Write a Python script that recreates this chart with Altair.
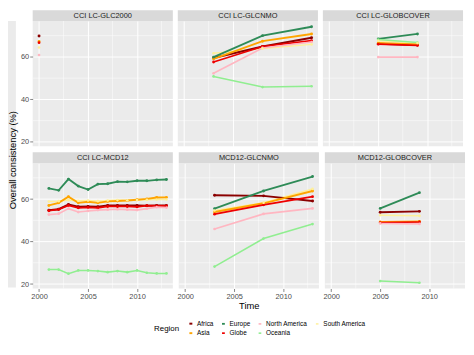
import altair as alt
import pandas as pd

regions = ["Africa", "Asia", "Europe", "Globe", "North America", "Oceania", "South America"]
legend_order = ["Africa", "Europe", "North America", "South America", "Asia", "Globe", "Oceania"]
colors = ["#8B0000", "#FFA500", "#2E8B57", "#EE0000", "#FFB6C1", "#90EE90", "#FFF09A"]
line_widths = [2, 1.5, 1, 2, 1, 1.2, 5]
point_sizes = [9, 7, 5, 9, 5, 5, 5]

panels = ["CCI LC-GLC2000", "CCI LC-GLCNMO", "CCI LC-GLOBCOVER",
          "CCI LC-MCD12", "MCD12-GLCNMO", "MCD12-GLOBCOVER"]

years = {
    "CCI LC-GLC2000": [2000],
    "CCI LC-GLCNMO": [2003, 2008, 2013],
    "CCI LC-GLOBCOVER": [2005, 2009],
    "CCI LC-MCD12": list(range(2001, 2014)),
    "MCD12-GLCNMO": [2003, 2008, 2013],
    "MCD12-GLOBCOVER": [2005, 2009],
}

values = {
    "CCI LC-GLC2000": {
        "Africa": [69.8], "Asia": [67.3], "Globe": [66.7],
        "South America": [64.4], "North America": [60.9],
    },
    "CCI LC-GLCNMO": {
        "Africa": [59.5, 64.9, 69.0],
        "Asia": [59.1, 67.4, 70.8],
        "Europe": [59.9, 70.0, 74.2],
        "Globe": [57.6, 64.9, 67.7],
        "North America": [52.3, 64.2, 67.0],
        "Oceania": [50.8, 45.8, 46.2],
        "South America": [61.7, 64.0, 65.9],
    },
    "CCI LC-GLOBCOVER": {
        "Africa": [66.2, 65.6],
        "Asia": [66.6, 65.9],
        "Europe": [68.5, 70.8],
        "Globe": [66.0, 65.4],
        "North America": [59.9, 59.9],
        "Oceania": [68.2, 66.8],
        "South America": [67.6, 66.5],
    },
    "CCI LC-MCD12": {
        "Africa": [54.7, 55.2, 57.4, 56.4, 56.5, 56.4, 57.0, 57.0, 57.0, 57.0, 56.9, 57.0, 57.0],
        "Asia": [57.0, 58.2, 61.1, 58.2, 58.7, 58.2, 58.9, 59.1, 59.3, 59.7, 60.1, 60.7, 60.8],
        "Europe": [65.0, 64.1, 69.4, 66.1, 64.5, 67.0, 67.2, 68.2, 68.1, 68.6, 68.6, 69.0, 69.2],
        "Globe": [54.5, 55.1, 57.0, 55.9, 56.1, 55.9, 56.5, 56.5, 56.5, 56.3, 56.9, 56.8, 56.8],
        "North America": [52.7, 53.1, 55.5, 53.9, 54.4, 54.8, 55.0, 55.2, 55.0, 54.8, 55.5, 56.2, 56.0],
        "Oceania": [26.8, 26.8, 24.9, 26.4, 26.4, 26.1, 25.6, 26.1, 25.6, 26.4, 25.3, 25.0, 25.0],
        "South America": [58.8, 59.0, 59.5, 59.2, 59.3, 59.0, 59.3, 59.5, 59.4, 59.5, 59.7, 59.8, 59.8],
    },
    "MCD12-GLCNMO": {
        "Africa": [61.8, 61.5, 59.1],
        "Asia": [53.9, 58.0, 63.8],
        "Europe": [55.5, 63.8, 70.6],
        "Globe": [52.9, 57.3, 61.1],
        "North America": [45.9, 53.0, 55.6],
        "Oceania": [28.2, 41.4, 48.2],
        "South America": [54.6, 58.3, 64.8],
    },
    "MCD12-GLOBCOVER": {
        "Africa": [53.8, 54.2],
        "Asia": [49.2, 49.5],
        "Europe": [55.6, 63.0],
        "Globe": [48.9, 49.2],
        "North America": [48.5, 48.3],
        "Oceania": [21.4, 20.6],
        "South America": [52.4, 52.1],
    },
}

x_major = [2000, 2005, 2010]
x_minor = [2002.5, 2007.5, 2012.5]
y_major = [20, 40, 60]
y_minor = [30, 50, 70]

rows = []
for p in panels:
    for r in regions:
        vals = values[p].get(r)
        if vals:
            for yr, v in zip(years[p], vals):
                rows.append({"Panel": p, "Region": r, "Year": yr, "Value": v})
df = pd.DataFrame(rows)

W, H, STRIP = 142, 127, 11
FONT = "Liberation Sans"

xscale = alt.Scale(domain=[1999.35, 2013.65], nice=False, zero=False)
yscale = alt.Scale(domain=[17.9, 76.9], nice=False, zero=False)
color_scale = alt.Scale(domain=regions, range=colors)
width_scale = alt.Scale(domain=regions, range=line_widths)
size_scale = alt.Scale(domain=regions, range=point_sizes)

legend = alt.Legend(
    title="Region", orient="none", legendX=148, legendY=303,
    direction="horizontal", columns=4, titleOrient="left",
    symbolType="stroke", symbolStrokeWidth=1.5, symbolSize=70,
    labelFontSize=6.5, titleFontSize=8, titleFontWeight="normal",
    columnPadding=4, rowPadding=1, values=legend_order,
    labelFont=FONT, titleFont=FONT, titlePadding=8, labelOffset=3,
)


def xenc(show, title):
    return alt.X("Year:Q", scale=xscale,
                 axis=alt.Axis(values=x_major, format="d", labels=show, ticks=show,
                               title=title, domain=False, grid=True))


def yenc(show):
    return alt.Y("Value:Q", scale=yscale,
                 axis=alt.Axis(values=y_major, labels=show, ticks=show,
                               title=None, domain=False, grid=True))


def panel(name, show_x, show_y, xtitle):
    d = df[df.Panel == name]
    minor_x = alt.Chart(pd.DataFrame({"Year": x_minor})).mark_rule(
        color="white", strokeWidth=0.5).encode(x=xenc(show_x, xtitle))
    minor_y = alt.Chart(pd.DataFrame({"Value": y_minor})).mark_rule(
        color="white", strokeWidth=0.5).encode(y=yenc(show_y))
    sa = d[d.Region == "South America"]
    others = d[d.Region != "South America"]
    enc_common = dict(
        x=xenc(show_x, xtitle), y=yenc(show_y),
        color=alt.Color("Region:N", scale=color_scale, legend=legend),
        strokeWidth=alt.StrokeWidth("Region:N", scale=width_scale, legend=None),
        detail="Region:N",
    )
    sa_line = alt.Chart(sa).mark_line().encode(**enc_common)
    other_line = alt.Chart(others).mark_line().encode(**enc_common)
    pts = alt.Chart(d).mark_circle(opacity=1).encode(
        x=xenc(show_x, xtitle), y=yenc(show_y),
        color=alt.Color("Region:N", scale=color_scale, legend=legend),
        size=alt.Size("Region:N", scale=size_scale, legend=None),
    )
    lab = pd.DataFrame({"label": [name]})
    strip = alt.Chart(lab).mark_rect(color="#D9D9D9").encode(
        x=alt.value(0), x2=alt.value(W), y=alt.value(-STRIP), y2=alt.value(0))
    strip_text = alt.Chart(lab).mark_text(
        fontSize=7.5, color="#1A1A1A", baseline="middle", font=FONT).encode(
        x=alt.value(W / 2), y=alt.value(-STRIP / 2 + 0.5), text="label:N")
    return alt.layer(minor_x, minor_y, sa_line, other_line, pts, strip, strip_text).properties(
        width=W, height=H)


row1 = alt.hconcat(
    panel(panels[0], False, True, None),
    panel(panels[1], False, False, None),
    panel(panels[2], False, False, None),
    spacing=3,
)
row2 = alt.hconcat(
    panel(panels[3], True, True, None),
    panel(panels[4], True, False, "Time"),
    panel(panels[5], True, False, None),
    spacing=3,
)
grid = alt.vconcat(row1, row2, spacing=5)

total_h = 2 * H + STRIP + 5
ytitle = alt.Chart(pd.DataFrame({"t": ["Overall consistency (%)"]})).mark_text(
    angle=270, fontSize=9.5, font=FONT, color="black", baseline="middle").encode(
    x=alt.value(5), y=alt.value(total_h / 2 + 6), text="t:N").properties(width=8, height=total_h)

chart = alt.hconcat(ytitle, grid, spacing=2).resolve_scale(
    color="shared").resolve_legend(color="shared").properties(padding=0).configure_view(
    fill="#EBEBEB", stroke=None).configure_axis(
    gridColor="white", gridWidth=1, labelColor="#4D4D4D", labelFontSize=7.5,
    labelFont=FONT, titleFont=FONT, titleFontSize=9.5, titleFontWeight="normal",
    titleColor="black", tickColor="#333333", tickSize=3, tickWidth=0.6,
    labelPadding=1, titlePadding=1,
).configure_legend(titleFontWeight="normal", labelColor="black", titleColor="black"
).configure_concat(spacing=3)

chart.save("out.html", embed_options={"renderer": "svg", "actions": False})
